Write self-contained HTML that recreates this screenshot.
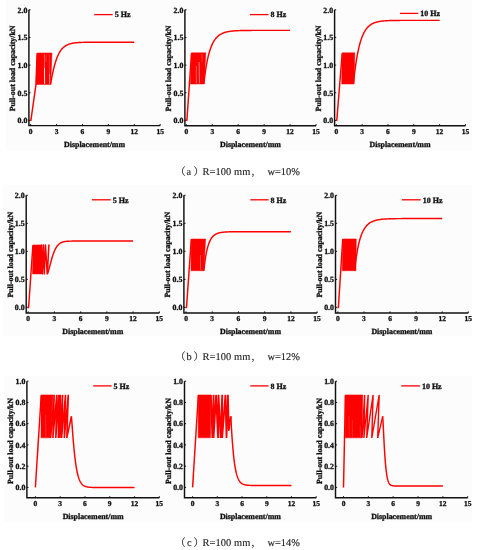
<!DOCTYPE html>
<html><head><meta charset="utf-8"><title>Pull-out load capacity vs displacement</title>
<style>
html,body{margin:0;padding:0;background:#fff;}
body{width:478px;height:550px;overflow:hidden;}
svg{display:block;filter:blur(0.3px);}
text{text-rendering:geometricPrecision;}
.t{font-family:'Liberation Serif','Times New Roman',serif;font-weight:bold;font-size:7.5px;fill:#111;stroke:#111;stroke-width:0.3px;}
.t.yt{font-size:7.9px;}
.l{font-family:'Liberation Serif','Times New Roman',serif;font-weight:bold;font-size:7.9px;fill:#111;stroke:#111;stroke-width:0.32px;}
.g{font-family:'Liberation Serif','Times New Roman',serif;font-weight:bold;font-size:8px;fill:#111;stroke:#111;stroke-width:0.32px;}
.c{font-family:'Liberation Serif','Noto Serif CJK SC',serif;font-size:10.4px;fill:#1a1a1a;stroke:#1a1a1a;stroke-width:0.12px;}
</style></head>
<body>
<svg width="478" height="550" viewBox="0 0 478 550">
<rect width="478" height="550" fill="#fff"/>
<rect x="6" y="0" width="466" height="150" fill="#fcfcfc"/>
<rect x="3" y="185" width="469" height="150.7" fill="#fcfcfc"/>
<rect x="3.8" y="376" width="468.2" height="146" fill="#fcfcfc"/>
<path d="M28.9,9.8 V125.6 H160.15" fill="none" stroke="#111" stroke-width="1.45"/>
<line x1="28.9" y1="120.4" x2="30.5" y2="120.4" stroke="#111" stroke-width="1"/>
<text x="27.4" y="123.15" class="t yt" text-anchor="end">0.0</text>
<line x1="28.9" y1="92.75" x2="30.5" y2="92.75" stroke="#111" stroke-width="1"/>
<text x="27.4" y="95.5" class="t yt" text-anchor="end">0.5</text>
<line x1="28.9" y1="65.1" x2="30.5" y2="65.1" stroke="#111" stroke-width="1"/>
<text x="27.4" y="67.85" class="t yt" text-anchor="end">1.0</text>
<line x1="28.9" y1="37.45" x2="30.5" y2="37.45" stroke="#111" stroke-width="1"/>
<text x="27.4" y="40.2" class="t yt" text-anchor="end">1.5</text>
<line x1="28.9" y1="9.8" x2="30.5" y2="9.8" stroke="#111" stroke-width="1"/>
<text x="27.4" y="12.55" class="t yt" text-anchor="end">2.0</text>
<line x1="30.7" y1="125.6" x2="30.7" y2="124" stroke="#111" stroke-width="1"/>
<text x="30.7" y="133.8" class="t" text-anchor="middle">0</text>
<line x1="56.59" y1="125.6" x2="56.59" y2="124" stroke="#111" stroke-width="1"/>
<text x="56.59" y="133.8" class="t" text-anchor="middle">3</text>
<line x1="82.48" y1="125.6" x2="82.48" y2="124" stroke="#111" stroke-width="1"/>
<text x="82.48" y="133.8" class="t" text-anchor="middle">6</text>
<line x1="108.37" y1="125.6" x2="108.37" y2="124" stroke="#111" stroke-width="1"/>
<text x="108.37" y="133.8" class="t" text-anchor="middle">9</text>
<line x1="134.26" y1="125.6" x2="134.26" y2="124" stroke="#111" stroke-width="1"/>
<text x="134.26" y="133.8" class="t" text-anchor="middle">12</text>
<line x1="160.15" y1="125.6" x2="160.15" y2="124" stroke="#111" stroke-width="1"/>
<text x="160.15" y="133.8" class="t" text-anchor="middle">15</text>
<text x="94.53" y="146.6" class="l" text-anchor="middle">Displacement/mm</text>
<text transform="translate(15.2,68.4) rotate(-90)" class="l" text-anchor="middle">Pull-out load capacity/kN</text>
<line x1="94.2" y1="14.6" x2="112.7" y2="14.6" stroke="#ff0000" stroke-width="1.3"/>
<text x="114.7" y="17.4" class="g">5 Hz</text>
<polyline points="30,120.3 30.9,120.3 36,84.4 37.1,53.4" fill="none" stroke="#ff0000" stroke-width="1.45" stroke-linejoin="round" />
<polygon points="36,84.4 37.2,53 52,53 50.7,84.4" fill="#ff0000" stroke="#ff0000" stroke-width="0.5" stroke-linejoin="round"/>
<line x1="44.4" y1="54" x2="44.5" y2="68" stroke="#fff" stroke-opacity="0.45" stroke-width="0.8"/>
<line x1="44.5" y1="68" x2="44.6" y2="83.9" stroke="#fff" stroke-opacity="0.9" stroke-width="1.0"/>
<line x1="46.1" y1="54" x2="46.1" y2="62" stroke="#fff" stroke-opacity="0.4" stroke-width="0.5"/>
<line x1="49.2" y1="54" x2="49.5" y2="74" stroke="#fff" stroke-opacity="0.35" stroke-width="0.6"/>
<line x1="49.5" y1="74" x2="49.7" y2="83.9" stroke="#fff" stroke-opacity="0.8" stroke-width="0.7"/>
<polyline points="50.5,84.4 50.85,82.59 51.2,80.69 51.55,78.81 51.9,76.98 52.25,75.21 52.6,73.51 52.95,71.88 53.3,70.32 53.65,68.82 54,67.4 54.35,66.04 54.7,64.75 55.05,63.52 55.4,62.35 55.75,61.24 56.1,60.19 56.45,59.19 56.8,58.24 57.15,57.35 57.5,56.49 57.85,55.69 58.2,54.93 58.55,54.2 58.9,53.52 59.25,52.88 59.6,52.26 59.95,51.69 60.3,51.14 60.65,50.63 61,50.14 61.35,49.68 61.7,49.25 62.05,48.84 62.4,48.45 62.75,48.08 63.1,47.74 63.45,47.42 63.8,47.11 64.15,46.82 64.5,46.55 64.85,46.29 65.2,46.05 65.55,45.82 65.9,45.61 66.25,45.4 66.6,45.21 66.95,45.03 67.3,44.86 67.65,44.71 68,44.56 68.35,44.41 68.7,44.28 69.05,44.16 69.4,44.04 69.75,43.93 70.1,43.82 70.45,43.73 70.8,43.63 71.15,43.55 71.5,43.47 71.85,43.39 72.2,43.32 72.55,43.25 72.9,43.18 73.25,43.12 73.6,43.07 73.95,43.02 74.3,42.97 74.65,42.92 75,42.87 75.35,42.83 75.7,42.79 76.05,42.76 76.4,42.72 76.75,42.69 77.1,42.66 77.45,42.63 77.8,42.61 78.15,42.58 78.5,42.56 78.85,42.54 79.2,42.51 79.55,42.5 79.9,42.48 80.25,42.46 80.6,42.44 80.95,42.43 81.3,42.41 81.65,42.4 82,42.39 82.35,42.38 82.7,42.37 83.05,42.36 83.4,42.35 83.75,42.34 84.1,42.33 84.45,42.32 84.8,42.31 85.15,42.31 85.5,42.3 85.85,42.29 86.2,42.29 86.55,42.28 86.9,42.28 87.25,42.27 87.6,42.27 87.95,42.26 88.3,42.26 88.65,42.25 89,42.25 89.35,42.25 89.7,42.25 90.05,42.24 90.4,42.24 90.75,42.24 91.1,42.23 91.45,42.23 91.8,42.23 92.15,42.23 92.5,42.23 92.85,42.23 93.2,42.22 93.55,42.22 93.9,42.22 94.25,42.22 94.6,42.22 94.95,42.22 95.3,42.22 95.65,42.21 96,42.21 96.35,42.21 96.7,42.21 97.05,42.21 97.4,42.21 97.75,42.21 98.1,42.21 98.45,42.21 98.8,42.21 99.15,42.21 99.5,42.21 99.85,42.21 100.2,42.21 100.55,42.21 100.9,42.21 101.25,42.21 101.6,42.2 101.95,42.2 102.3,42.2 102.65,42.2 103,42.2 103.35,42.2 103.7,42.2 104.05,42.2 104.4,42.2 104.75,42.2 105.1,42.2 105.45,42.2 105.8,42.2 106.15,42.2 106.5,42.2 106.85,42.2 107.2,42.2 107.55,42.2 107.9,42.2 108.25,42.2 108.6,42.2 108.95,42.2 109.3,42.2 109.65,42.2 110,42.2 110.35,42.2 110.7,42.2 111.05,42.2 111.4,42.2 111.75,42.2 112.1,42.2 112.45,42.2 112.8,42.2 113.15,42.2 113.5,42.2 113.85,42.2 114.2,42.2 114.55,42.2 114.9,42.2 115.25,42.2 115.6,42.2 115.95,42.2 116.3,42.2 116.65,42.2 117,42.2 117.35,42.2 117.7,42.2 118.05,42.2 118.4,42.2 118.75,42.2 119.1,42.2 119.45,42.2 119.8,42.2 120.15,42.2 120.5,42.2 120.85,42.2 121.2,42.2 121.55,42.2 121.9,42.2 122.25,42.2 122.6,42.2 122.95,42.2 123.3,42.2 123.65,42.2 124,42.2 124.35,42.2 124.7,42.2 125.05,42.2 125.4,42.2 125.75,42.2 126.1,42.2 126.45,42.2 126.8,42.2 127.15,42.2 127.5,42.2 127.85,42.2 128.2,42.2 128.55,42.2 128.9,42.2 129.25,42.2 129.6,42.2 129.95,42.2 130.3,42.2 130.65,42.2 131,42.2 131.35,42.2 131.7,42.2 132.05,42.2 132.4,42.2 132.75,42.2 133.1,42.2 133.45,42.2 133.8,42.2 134.15,42.2 134.26,42.2" fill="none" stroke="#ff0000" stroke-width="1.45" stroke-linejoin="round" />
<path d="M184.9,9.8 V125.7 H316.05" fill="none" stroke="#111" stroke-width="1.45"/>
<line x1="184.9" y1="120.4" x2="186.5" y2="120.4" stroke="#111" stroke-width="1"/>
<text x="183.4" y="123.15" class="t yt" text-anchor="end">0.0</text>
<line x1="184.9" y1="92.75" x2="186.5" y2="92.75" stroke="#111" stroke-width="1"/>
<text x="183.4" y="95.5" class="t yt" text-anchor="end">0.5</text>
<line x1="184.9" y1="65.1" x2="186.5" y2="65.1" stroke="#111" stroke-width="1"/>
<text x="183.4" y="67.85" class="t yt" text-anchor="end">1.0</text>
<line x1="184.9" y1="37.45" x2="186.5" y2="37.45" stroke="#111" stroke-width="1"/>
<text x="183.4" y="40.2" class="t yt" text-anchor="end">1.5</text>
<line x1="184.9" y1="9.8" x2="186.5" y2="9.8" stroke="#111" stroke-width="1"/>
<text x="183.4" y="12.55" class="t yt" text-anchor="end">2.0</text>
<line x1="186.3" y1="125.7" x2="186.3" y2="124.1" stroke="#111" stroke-width="1"/>
<text x="186.3" y="133.9" class="t" text-anchor="middle">0</text>
<line x1="212.25" y1="125.7" x2="212.25" y2="124.1" stroke="#111" stroke-width="1"/>
<text x="212.25" y="133.9" class="t" text-anchor="middle">3</text>
<line x1="238.2" y1="125.7" x2="238.2" y2="124.1" stroke="#111" stroke-width="1"/>
<text x="238.2" y="133.9" class="t" text-anchor="middle">6</text>
<line x1="264.15" y1="125.7" x2="264.15" y2="124.1" stroke="#111" stroke-width="1"/>
<text x="264.15" y="133.9" class="t" text-anchor="middle">9</text>
<line x1="290.1" y1="125.7" x2="290.1" y2="124.1" stroke="#111" stroke-width="1"/>
<text x="290.1" y="133.9" class="t" text-anchor="middle">12</text>
<line x1="316.05" y1="125.7" x2="316.05" y2="124.1" stroke="#111" stroke-width="1"/>
<text x="316.05" y="133.9" class="t" text-anchor="middle">15</text>
<text x="250.48" y="146.7" class="l" text-anchor="middle">Displacement/mm</text>
<text transform="translate(171.2,68.45) rotate(-90)" class="l" text-anchor="middle">Pull-out load capacity/kN</text>
<line x1="249.9" y1="14.6" x2="268.5" y2="14.6" stroke="#ff0000" stroke-width="1.3"/>
<text x="270.5" y="17.4" class="g">8 Hz</text>
<polyline points="185.7,120.3 186.9,120.3 191.5,53.2" fill="none" stroke="#ff0000" stroke-width="1.45" stroke-linejoin="round" />
<polygon points="190.4,84 191.5,52.8 205.8,52.8 204.2,84" fill="#ff0000" stroke="#ff0000" stroke-width="0.5" stroke-linejoin="round"/>
<line x1="196.3" y1="66" x2="196.45" y2="83.4" stroke="#fff" stroke-opacity="0.6" stroke-width="0.6"/>
<line x1="199.1" y1="62" x2="199.4" y2="83.4" stroke="#fff" stroke-opacity="0.7" stroke-width="0.7"/>
<line x1="202" y1="53.8" x2="202.1" y2="62" stroke="#fff" stroke-opacity="0.5" stroke-width="0.5"/>
<polyline points="203.9,83.8 204.25,80.38 204.6,77.38 204.95,74.64 205.3,72.1 205.65,69.73 206,67.52 206.35,65.46 206.7,63.52 207.05,61.69 207.4,59.98 207.75,58.37 208.1,56.85 208.45,55.42 208.8,54.08 209.15,52.81 209.5,51.61 209.85,50.48 210.2,49.41 210.55,48.4 210.9,47.45 211.25,46.55 211.6,45.7 211.95,44.9 212.3,44.13 212.65,43.42 213,42.73 213.35,42.09 213.7,41.48 214.05,40.91 214.4,40.36 214.75,39.84 215.1,39.35 215.45,38.89 215.8,38.45 216.15,38.04 216.5,37.64 216.85,37.27 217.2,36.92 217.55,36.58 217.9,36.26 218.25,35.96 218.6,35.68 218.95,35.41 219.3,35.15 219.65,34.91 220,34.68 220.35,34.46 220.7,34.25 221.05,34.05 221.4,33.87 221.75,33.69 222.1,33.52 222.45,33.36 222.8,33.21 223.15,33.07 223.5,32.93 223.85,32.8 224.2,32.68 224.55,32.56 224.9,32.45 225.25,32.35 225.6,32.25 225.95,32.15 226.3,32.06 226.65,31.98 227,31.9 227.35,31.82 227.7,31.75 228.05,31.68 228.4,31.61 228.75,31.55 229.1,31.49 229.45,31.43 229.8,31.38 230.15,31.33 230.5,31.28 230.85,31.23 231.2,31.19 231.55,31.15 231.9,31.11 232.25,31.07 232.6,31.04 232.95,31 233.3,30.97 233.65,30.94 234,30.91 234.35,30.88 234.7,30.86 235.05,30.83 235.4,30.81 235.75,30.79 236.1,30.77 236.45,30.75 236.8,30.73 237.15,30.71 237.5,30.69 237.85,30.67 238.2,30.66 238.55,30.64 238.9,30.63 239.25,30.61 239.6,30.6 239.95,30.59 240.3,30.58 240.65,30.57 241,30.56 241.35,30.55 241.7,30.54 242.05,30.53 242.4,30.52 242.75,30.51 243.1,30.5 243.45,30.5 243.8,30.49 244.15,30.48 244.5,30.48 244.85,30.47 245.2,30.46 245.55,30.46 245.9,30.45 246.25,30.45 246.6,30.44 246.95,30.44 247.3,30.43 247.65,30.43 248,30.43 248.35,30.42 248.7,30.42 249.05,30.42 249.4,30.41 249.75,30.41 250.1,30.41 250.45,30.4 250.8,30.4 251.15,30.4 251.5,30.4 251.85,30.39 252.2,30.39 252.55,30.39 252.9,30.39 253.25,30.39 253.6,30.38 253.95,30.38 254.3,30.38 254.65,30.38 255,30.38 255.35,30.38 255.7,30.38 256.05,30.37 256.4,30.37 256.75,30.37 257.1,30.37 257.45,30.37 257.8,30.37 258.15,30.37 258.5,30.37 258.85,30.37 259.2,30.37 259.55,30.37 259.9,30.36 260.25,30.36 260.6,30.36 260.95,30.36 261.3,30.36 261.65,30.36 262,30.36 262.35,30.36 262.7,30.36 263.05,30.36 263.4,30.36 263.75,30.36 264.1,30.36 264.45,30.36 264.8,30.36 265.15,30.36 265.5,30.36 265.85,30.36 266.2,30.36 266.55,30.36 266.9,30.36 267.25,30.36 267.6,30.35 267.95,30.35 268.3,30.35 268.65,30.35 269,30.35 269.35,30.35 269.7,30.35 270.05,30.35 270.4,30.35 270.75,30.35 271.1,30.35 271.45,30.35 271.8,30.35 272.15,30.35 272.5,30.35 272.85,30.35 273.2,30.35 273.55,30.35 273.9,30.35 274.25,30.35 274.6,30.35 274.95,30.35 275.3,30.35 275.65,30.35 276,30.35 276.35,30.35 276.7,30.35 277.05,30.35 277.4,30.35 277.75,30.35 278.1,30.35 278.45,30.35 278.8,30.35 279.15,30.35 279.5,30.35 279.85,30.35 280.2,30.35 280.55,30.35 280.9,30.35 281.25,30.35 281.6,30.35 281.95,30.35 282.3,30.35 282.65,30.35 283,30.35 283.35,30.35 283.7,30.35 284.05,30.35 284.4,30.35 284.75,30.35 285.1,30.35 285.45,30.35 285.8,30.35 286.15,30.35 286.5,30.35 286.85,30.35 287.2,30.35 287.55,30.35 287.9,30.35 288.25,30.35 288.6,30.35 288.95,30.35 289.3,30.35 289.65,30.35 290,30.35 290.1,30.35" fill="none" stroke="#ff0000" stroke-width="1.45" stroke-linejoin="round" />
<path d="M334.6,9.8 V125.7 H465.45" fill="none" stroke="#111" stroke-width="1.45"/>
<line x1="334.6" y1="120.4" x2="336.2" y2="120.4" stroke="#111" stroke-width="1"/>
<text x="333.1" y="123.15" class="t yt" text-anchor="end">0.0</text>
<line x1="334.6" y1="92.75" x2="336.2" y2="92.75" stroke="#111" stroke-width="1"/>
<text x="333.1" y="95.5" class="t yt" text-anchor="end">0.5</text>
<line x1="334.6" y1="65.1" x2="336.2" y2="65.1" stroke="#111" stroke-width="1"/>
<text x="333.1" y="67.85" class="t yt" text-anchor="end">1.0</text>
<line x1="334.6" y1="37.45" x2="336.2" y2="37.45" stroke="#111" stroke-width="1"/>
<text x="333.1" y="40.2" class="t yt" text-anchor="end">1.5</text>
<line x1="334.6" y1="9.8" x2="336.2" y2="9.8" stroke="#111" stroke-width="1"/>
<text x="333.1" y="12.55" class="t yt" text-anchor="end">2.0</text>
<line x1="336.3" y1="125.7" x2="336.3" y2="124.1" stroke="#111" stroke-width="1"/>
<text x="336.3" y="133.9" class="t" text-anchor="middle">0</text>
<line x1="362.13" y1="125.7" x2="362.13" y2="124.1" stroke="#111" stroke-width="1"/>
<text x="362.13" y="133.9" class="t" text-anchor="middle">3</text>
<line x1="387.96" y1="125.7" x2="387.96" y2="124.1" stroke="#111" stroke-width="1"/>
<text x="387.96" y="133.9" class="t" text-anchor="middle">6</text>
<line x1="413.79" y1="125.7" x2="413.79" y2="124.1" stroke="#111" stroke-width="1"/>
<text x="413.79" y="133.9" class="t" text-anchor="middle">9</text>
<line x1="439.62" y1="125.7" x2="439.62" y2="124.1" stroke="#111" stroke-width="1"/>
<text x="439.62" y="133.9" class="t" text-anchor="middle">12</text>
<line x1="465.45" y1="125.7" x2="465.45" y2="124.1" stroke="#111" stroke-width="1"/>
<text x="465.45" y="133.9" class="t" text-anchor="middle">15</text>
<text x="400.02" y="146.7" class="l" text-anchor="middle">Displacement/mm</text>
<text transform="translate(320.9,68.45) rotate(-90)" class="l" text-anchor="middle">Pull-out load capacity/kN</text>
<line x1="400" y1="13.4" x2="418.2" y2="13.4" stroke="#ff0000" stroke-width="1.3"/>
<text x="420.2" y="16.2" class="g">10 Hz</text>
<polyline points="335.7,120.3 336.8,120.3 342.2,53.2" fill="none" stroke="#ff0000" stroke-width="1.45" stroke-linejoin="round" />
<polygon points="341.7,84 342.2,52.8 354.8,52.8 354.1,84" fill="#ff0000" stroke="#ff0000" stroke-width="0.5" stroke-linejoin="round"/>
<polyline points="353.4,84 353.75,80.64 354.1,77.45 354.45,74.44 354.8,71.58 355.15,68.88 355.5,66.31 355.85,63.88 356.2,61.59 356.55,59.41 356.9,57.34 357.25,55.39 357.6,53.54 357.95,51.79 358.3,50.13 358.65,48.55 359,47.06 359.35,45.65 359.7,44.32 360.05,43.05 360.4,41.85 360.75,40.72 361.1,39.64 361.45,38.62 361.8,37.66 362.15,36.74 362.5,35.88 362.85,35.06 363.2,34.28 363.55,33.54 363.9,32.85 364.25,32.19 364.6,31.56 364.95,30.97 365.3,30.41 365.65,29.88 366,29.37 366.35,28.9 366.7,28.45 367.05,28.02 367.4,27.61 367.75,27.23 368.1,26.87 368.45,26.52 368.8,26.2 369.15,25.89 369.5,25.6 369.85,25.32 370.2,25.06 370.55,24.81 370.9,24.57 371.25,24.35 371.6,24.14 371.95,23.94 372.3,23.75 372.65,23.57 373,23.4 373.35,23.24 373.7,23.08 374.05,22.94 374.4,22.8 374.75,22.67 375.1,22.55 375.45,22.44 375.8,22.32 376.15,22.22 376.5,22.12 376.85,22.03 377.2,21.94 377.55,21.86 377.9,21.78 378.25,21.7 378.6,21.63 378.95,21.56 379.3,21.5 379.65,21.44 380,21.38 380.35,21.33 380.7,21.27 381.05,21.23 381.4,21.18 381.75,21.14 382.1,21.09 382.45,21.05 382.8,21.02 383.15,20.98 383.5,20.95 383.85,20.92 384.2,20.89 384.55,20.86 384.9,20.83 385.25,20.81 385.6,20.78 385.95,20.76 386.3,20.74 386.65,20.72 387,20.7 387.35,20.68 387.7,20.66 388.05,20.65 388.4,20.63 388.75,20.62 389.1,20.6 389.45,20.59 389.8,20.58 390.15,20.56 390.5,20.55 390.85,20.54 391.2,20.53 391.55,20.52 391.9,20.51 392.25,20.5 392.6,20.5 392.95,20.49 393.3,20.48 393.65,20.47 394,20.47 394.35,20.46 394.7,20.46 395.05,20.45 395.4,20.44 395.75,20.44 396.1,20.43 396.45,20.43 396.8,20.43 397.15,20.42 397.5,20.42 397.85,20.41 398.2,20.41 398.55,20.41 398.9,20.4 399.25,20.4 399.6,20.4 399.95,20.4 400.3,20.39 400.65,20.39 401,20.39 401.35,20.39 401.7,20.39 402.05,20.38 402.4,20.38 402.75,20.38 403.1,20.38 403.45,20.38 403.8,20.38 404.15,20.37 404.5,20.37 404.85,20.37 405.2,20.37 405.55,20.37 405.9,20.37 406.25,20.37 406.6,20.37 406.95,20.37 407.3,20.36 407.65,20.36 408,20.36 408.35,20.36 408.7,20.36 409.05,20.36 409.4,20.36 409.75,20.36 410.1,20.36 410.45,20.36 410.8,20.36 411.15,20.36 411.5,20.36 411.85,20.36 412.2,20.36 412.55,20.36 412.9,20.36 413.25,20.36 413.6,20.36 413.95,20.36 414.3,20.36 414.65,20.35 415,20.35 415.35,20.35 415.7,20.35 416.05,20.35 416.4,20.35 416.75,20.35 417.1,20.35 417.45,20.35 417.8,20.35 418.15,20.35 418.5,20.35 418.85,20.35 419.2,20.35 419.55,20.35 419.9,20.35 420.25,20.35 420.6,20.35 420.95,20.35 421.3,20.35 421.65,20.35 422,20.35 422.35,20.35 422.7,20.35 423.05,20.35 423.4,20.35 423.75,20.35 424.1,20.35 424.45,20.35 424.8,20.35 425.15,20.35 425.5,20.35 425.85,20.35 426.2,20.35 426.55,20.35 426.9,20.35 427.25,20.35 427.6,20.35 427.95,20.35 428.3,20.35 428.65,20.35 429,20.35 429.35,20.35 429.7,20.35 430.05,20.35 430.4,20.35 430.75,20.35 431.1,20.35 431.45,20.35 431.8,20.35 432.15,20.35 432.5,20.35 432.85,20.35 433.2,20.35 433.55,20.35 433.9,20.35 434.25,20.35 434.6,20.35 434.95,20.35 435.3,20.35 435.65,20.35 436,20.35 436.35,20.35 436.7,20.35 437.05,20.35 437.4,20.35 437.75,20.35 438.1,20.35 438.45,20.35 438.8,20.35 439.15,20.35 439.5,20.35 439.62,20.35" fill="none" stroke="#ff0000" stroke-width="1.45" stroke-linejoin="round" />
<path d="M26.2,195.3 V313 H159.3" fill="none" stroke="#111" stroke-width="1.45"/>
<line x1="26.2" y1="307.4" x2="27.8" y2="307.4" stroke="#111" stroke-width="1"/>
<text x="24.7" y="310.15" class="t yt" text-anchor="end">0.0</text>
<line x1="26.2" y1="279.38" x2="27.8" y2="279.38" stroke="#111" stroke-width="1"/>
<text x="24.7" y="282.12" class="t yt" text-anchor="end">0.5</text>
<line x1="26.2" y1="251.35" x2="27.8" y2="251.35" stroke="#111" stroke-width="1"/>
<text x="24.7" y="254.1" class="t yt" text-anchor="end">1.0</text>
<line x1="26.2" y1="223.32" x2="27.8" y2="223.32" stroke="#111" stroke-width="1"/>
<text x="24.7" y="226.07" class="t yt" text-anchor="end">1.5</text>
<line x1="26.2" y1="195.3" x2="27.8" y2="195.3" stroke="#111" stroke-width="1"/>
<text x="24.7" y="198.05" class="t yt" text-anchor="end">2.0</text>
<line x1="28.2" y1="313" x2="28.2" y2="311.4" stroke="#111" stroke-width="1"/>
<text x="28.2" y="321.2" class="t" text-anchor="middle">0</text>
<line x1="54.42" y1="313" x2="54.42" y2="311.4" stroke="#111" stroke-width="1"/>
<text x="54.42" y="321.2" class="t" text-anchor="middle">3</text>
<line x1="80.64" y1="313" x2="80.64" y2="311.4" stroke="#111" stroke-width="1"/>
<text x="80.64" y="321.2" class="t" text-anchor="middle">6</text>
<line x1="106.86" y1="313" x2="106.86" y2="311.4" stroke="#111" stroke-width="1"/>
<text x="106.86" y="321.2" class="t" text-anchor="middle">9</text>
<line x1="133.08" y1="313" x2="133.08" y2="311.4" stroke="#111" stroke-width="1"/>
<text x="133.08" y="321.2" class="t" text-anchor="middle">12</text>
<line x1="159.3" y1="313" x2="159.3" y2="311.4" stroke="#111" stroke-width="1"/>
<text x="159.3" y="321.2" class="t" text-anchor="middle">15</text>
<text x="92.75" y="333.7" class="l" text-anchor="middle">Displacement/mm</text>
<text transform="translate(12.7,254.65) rotate(-90)" class="l" text-anchor="middle">Pull-out load capacity/kN</text>
<line x1="91.9" y1="199.8" x2="110.7" y2="199.8" stroke="#ff0000" stroke-width="1.3"/>
<text x="112.7" y="202.6" class="g">5 Hz</text>
<polyline points="27.5,307.4 28.6,307.4 32.9,245.3" fill="none" stroke="#ff0000" stroke-width="1.45" stroke-linejoin="round" />
<polygon points="32.5,273.9 32.9,244.9 41.6,244.9 41.3,273.9" fill="#ff0000" stroke="#ff0000" stroke-width="0.5" stroke-linejoin="round"/>
<polyline points="41.3,273.9 41.6,244.9 42.4,273.9 43.5,244.9 44.3,273.9 45.5,244.9 47.2,273.9 48.9,244.9 47.4,273.9" fill="none" stroke="#ff0000" stroke-width="1.45" stroke-linejoin="round" />
<polyline points="47.3,273.9 47.65,273.33 48,272.42 48.35,271.33 48.7,270.13 49.05,268.86 49.4,267.55 49.75,266.21 50.1,264.87 50.45,263.54 50.8,262.22 51.15,260.94 51.5,259.69 51.85,258.47 52.2,257.31 52.55,256.19 52.9,255.12 53.25,254.1 53.6,253.13 53.95,252.22 54.3,251.36 54.65,250.55 55,249.79 55.35,249.07 55.7,248.41 56.05,247.79 56.4,247.21 56.75,246.68 57.1,246.18 57.45,245.72 57.8,245.3 58.15,244.91 58.5,244.55 58.85,244.23 59.2,243.92 59.55,243.65 59.9,243.4 60.25,243.17 60.6,242.96 60.95,242.77 61.3,242.59 61.65,242.44 62,242.29 62.35,242.16 62.7,242.05 63.05,241.94 63.4,241.85 63.75,241.76 64.1,241.68 64.45,241.61 64.8,241.55 65.15,241.5 65.5,241.45 65.85,241.4 66.2,241.36 66.55,241.33 66.9,241.29 67.25,241.27 67.6,241.24 67.95,241.22 68.3,241.2 68.65,241.18 69,241.17 69.35,241.15 69.7,241.14 70.05,241.13 70.4,241.12 70.75,241.11 71.1,241.1 71.45,241.1 71.8,241.09 72.15,241.09 72.5,241.08 72.85,241.08 73.2,241.07 73.55,241.07 73.9,241.07 74.25,241.07 74.6,241.06 74.95,241.06 75.3,241.06 75.65,241.06 76,241.06 76.35,241.06 76.7,241.06 77.05,241.06 77.4,241.05 77.75,241.05 78.1,241.05 78.45,241.05 78.8,241.05 79.15,241.05 79.5,241.05 79.85,241.05 80.2,241.05 80.55,241.05 80.9,241.05 81.25,241.05 81.6,241.05 81.95,241.05 82.3,241.05 82.65,241.05 83,241.05 83.35,241.05 83.7,241.05 84.05,241.05 84.4,241.05 84.75,241.05 85.1,241.05 85.45,241.05 85.8,241.05 86.15,241.05 86.5,241.05 86.85,241.05 87.2,241.05 87.55,241.05 87.9,241.05 88.25,241.05 88.6,241.05 88.95,241.05 89.3,241.05 89.65,241.05 90,241.05 90.35,241.05 90.7,241.05 91.05,241.05 91.4,241.05 91.75,241.05 92.1,241.05 92.45,241.05 92.8,241.05 93.15,241.05 93.5,241.05 93.85,241.05 94.2,241.05 94.55,241.05 94.9,241.05 95.25,241.05 95.6,241.05 95.95,241.05 96.3,241.05 96.65,241.05 97,241.05 97.35,241.05 97.7,241.05 98.05,241.05 98.4,241.05 98.75,241.05 99.1,241.05 99.45,241.05 99.8,241.05 100.15,241.05 100.5,241.05 100.85,241.05 101.2,241.05 101.55,241.05 101.9,241.05 102.25,241.05 102.6,241.05 102.95,241.05 103.3,241.05 103.65,241.05 104,241.05 104.35,241.05 104.7,241.05 105.05,241.05 105.4,241.05 105.75,241.05 106.1,241.05 106.45,241.05 106.8,241.05 107.15,241.05 107.5,241.05 107.85,241.05 108.2,241.05 108.55,241.05 108.9,241.05 109.25,241.05 109.6,241.05 109.95,241.05 110.3,241.05 110.65,241.05 111,241.05 111.35,241.05 111.7,241.05 112.05,241.05 112.4,241.05 112.75,241.05 113.1,241.05 113.45,241.05 113.8,241.05 114.15,241.05 114.5,241.05 114.85,241.05 115.2,241.05 115.55,241.05 115.9,241.05 116.25,241.05 116.6,241.05 116.95,241.05 117.3,241.05 117.65,241.05 118,241.05 118.35,241.05 118.7,241.05 119.05,241.05 119.4,241.05 119.75,241.05 120.1,241.05 120.45,241.05 120.8,241.05 121.15,241.05 121.5,241.05 121.85,241.05 122.2,241.05 122.55,241.05 122.9,241.05 123.25,241.05 123.6,241.05 123.95,241.05 124.3,241.05 124.65,241.05 125,241.05 125.35,241.05 125.7,241.05 126.05,241.05 126.4,241.05 126.75,241.05 127.1,241.05 127.45,241.05 127.8,241.05 128.15,241.05 128.5,241.05 128.85,241.05 129.2,241.05 129.55,241.05 129.9,241.05 130.25,241.05 130.6,241.05 130.95,241.05 131.3,241.05 131.65,241.05 132,241.05 132.35,241.05 132.7,241.05 133.05,241.05 133.08,241.05" fill="none" stroke="#ff0000" stroke-width="1.45" stroke-linejoin="round" />
<path d="M183.9,195.3 V313 H317.1" fill="none" stroke="#111" stroke-width="1.45"/>
<line x1="183.9" y1="307.4" x2="185.5" y2="307.4" stroke="#111" stroke-width="1"/>
<text x="182.4" y="310.15" class="t yt" text-anchor="end">0.0</text>
<line x1="183.9" y1="279.38" x2="185.5" y2="279.38" stroke="#111" stroke-width="1"/>
<text x="182.4" y="282.12" class="t yt" text-anchor="end">0.5</text>
<line x1="183.9" y1="251.35" x2="185.5" y2="251.35" stroke="#111" stroke-width="1"/>
<text x="182.4" y="254.1" class="t yt" text-anchor="end">1.0</text>
<line x1="183.9" y1="223.32" x2="185.5" y2="223.32" stroke="#111" stroke-width="1"/>
<text x="182.4" y="226.07" class="t yt" text-anchor="end">1.5</text>
<line x1="183.9" y1="195.3" x2="185.5" y2="195.3" stroke="#111" stroke-width="1"/>
<text x="182.4" y="198.05" class="t yt" text-anchor="end">2.0</text>
<line x1="186" y1="313" x2="186" y2="311.4" stroke="#111" stroke-width="1"/>
<text x="186" y="321.2" class="t" text-anchor="middle">0</text>
<line x1="212.22" y1="313" x2="212.22" y2="311.4" stroke="#111" stroke-width="1"/>
<text x="212.22" y="321.2" class="t" text-anchor="middle">3</text>
<line x1="238.44" y1="313" x2="238.44" y2="311.4" stroke="#111" stroke-width="1"/>
<text x="238.44" y="321.2" class="t" text-anchor="middle">6</text>
<line x1="264.66" y1="313" x2="264.66" y2="311.4" stroke="#111" stroke-width="1"/>
<text x="264.66" y="321.2" class="t" text-anchor="middle">9</text>
<line x1="290.88" y1="313" x2="290.88" y2="311.4" stroke="#111" stroke-width="1"/>
<text x="290.88" y="321.2" class="t" text-anchor="middle">12</text>
<line x1="317.1" y1="313" x2="317.1" y2="311.4" stroke="#111" stroke-width="1"/>
<text x="317.1" y="321.2" class="t" text-anchor="middle">15</text>
<text x="250.5" y="333.7" class="l" text-anchor="middle">Displacement/mm</text>
<text transform="translate(170.2,254.65) rotate(-90)" class="l" text-anchor="middle">Pull-out load capacity/kN</text>
<line x1="250.3" y1="199.8" x2="268.6" y2="199.8" stroke="#ff0000" stroke-width="1.3"/>
<text x="270.6" y="202.6" class="g">8 Hz</text>
<polyline points="185.5,307.4 186.5,307.4 191.3,239.4" fill="none" stroke="#ff0000" stroke-width="1.45" stroke-linejoin="round" />
<polygon points="191,270.7 191.2,239 205.6,239 203.9,270.7" fill="#ff0000" stroke="#ff0000" stroke-width="0.5" stroke-linejoin="round"/>
<line x1="200.4" y1="255" x2="200.6" y2="270.1" stroke="#fff" stroke-opacity="0.5" stroke-width="0.6"/>
<polyline points="203.9,270.7 204.25,267.11 204.6,264.06 204.95,261.35 205.3,258.9 205.65,256.68 206,254.66 206.35,252.82 206.7,251.14 207.05,249.6 207.4,248.2 207.75,246.9 208.1,245.72 208.45,244.63 208.8,243.63 209.15,242.71 209.5,241.86 209.85,241.09 210.2,240.37 210.55,239.71 210.9,239.1 211.25,238.54 211.6,238.02 211.95,237.54 212.3,237.1 212.65,236.7 213,236.32 213.35,235.98 213.7,235.66 214.05,235.36 214.4,235.09 214.75,234.84 215.1,234.6 215.45,234.39 215.8,234.19 216.15,234 216.5,233.83 216.85,233.68 217.2,233.53 217.55,233.4 217.9,233.27 218.25,233.16 218.6,233.05 218.95,232.95 219.3,232.86 219.65,232.77 220,232.7 220.35,232.62 220.7,232.56 221.05,232.49 221.4,232.44 221.75,232.38 222.1,232.33 222.45,232.29 222.8,232.24 223.15,232.21 223.5,232.17 223.85,232.14 224.2,232.1 224.55,232.07 224.9,232.05 225.25,232.02 225.6,232 225.95,231.98 226.3,231.96 226.65,231.94 227,231.92 227.35,231.91 227.7,231.89 228.05,231.88 228.4,231.87 228.75,231.85 229.1,231.84 229.45,231.83 229.8,231.82 230.15,231.81 230.5,231.81 230.85,231.8 231.2,231.79 231.55,231.78 231.9,231.78 232.25,231.77 232.6,231.77 232.95,231.76 233.3,231.76 233.65,231.75 234,231.75 234.35,231.75 234.7,231.74 235.05,231.74 235.4,231.74 235.75,231.74 236.1,231.73 236.45,231.73 236.8,231.73 237.15,231.73 237.5,231.72 237.85,231.72 238.2,231.72 238.55,231.72 238.9,231.72 239.25,231.72 239.6,231.72 239.95,231.71 240.3,231.71 240.65,231.71 241,231.71 241.35,231.71 241.7,231.71 242.05,231.71 242.4,231.71 242.75,231.71 243.1,231.71 243.45,231.71 243.8,231.71 244.15,231.71 244.5,231.71 244.85,231.71 245.2,231.7 245.55,231.7 245.9,231.7 246.25,231.7 246.6,231.7 246.95,231.7 247.3,231.7 247.65,231.7 248,231.7 248.35,231.7 248.7,231.7 249.05,231.7 249.4,231.7 249.75,231.7 250.1,231.7 250.45,231.7 250.8,231.7 251.15,231.7 251.5,231.7 251.85,231.7 252.2,231.7 252.55,231.7 252.9,231.7 253.25,231.7 253.6,231.7 253.95,231.7 254.3,231.7 254.65,231.7 255,231.7 255.35,231.7 255.7,231.7 256.05,231.7 256.4,231.7 256.75,231.7 257.1,231.7 257.45,231.7 257.8,231.7 258.15,231.7 258.5,231.7 258.85,231.7 259.2,231.7 259.55,231.7 259.9,231.7 260.25,231.7 260.6,231.7 260.95,231.7 261.3,231.7 261.65,231.7 262,231.7 262.35,231.7 262.7,231.7 263.05,231.7 263.4,231.7 263.75,231.7 264.1,231.7 264.45,231.7 264.8,231.7 265.15,231.7 265.5,231.7 265.85,231.7 266.2,231.7 266.55,231.7 266.9,231.7 267.25,231.7 267.6,231.7 267.95,231.7 268.3,231.7 268.65,231.7 269,231.7 269.35,231.7 269.7,231.7 270.05,231.7 270.4,231.7 270.75,231.7 271.1,231.7 271.45,231.7 271.8,231.7 272.15,231.7 272.5,231.7 272.85,231.7 273.2,231.7 273.55,231.7 273.9,231.7 274.25,231.7 274.6,231.7 274.95,231.7 275.3,231.7 275.65,231.7 276,231.7 276.35,231.7 276.7,231.7 277.05,231.7 277.4,231.7 277.75,231.7 278.1,231.7 278.45,231.7 278.8,231.7 279.15,231.7 279.5,231.7 279.85,231.7 280.2,231.7 280.55,231.7 280.9,231.7 281.25,231.7 281.6,231.7 281.95,231.7 282.3,231.7 282.65,231.7 283,231.7 283.35,231.7 283.7,231.7 284.05,231.7 284.4,231.7 284.75,231.7 285.1,231.7 285.45,231.7 285.8,231.7 286.15,231.7 286.5,231.7 286.85,231.7 287.2,231.7 287.55,231.7 287.9,231.7 288.25,231.7 288.6,231.7 288.95,231.7 289.3,231.7 289.65,231.7 290,231.7 290.35,231.7 290.7,231.7 290.88,231.7" fill="none" stroke="#ff0000" stroke-width="1.45" stroke-linejoin="round" />
<path d="M335.5,195.3 V313 H468.25" fill="none" stroke="#111" stroke-width="1.45"/>
<line x1="335.5" y1="307.4" x2="337.1" y2="307.4" stroke="#111" stroke-width="1"/>
<text x="334" y="310.15" class="t yt" text-anchor="end">0.0</text>
<line x1="335.5" y1="279.38" x2="337.1" y2="279.38" stroke="#111" stroke-width="1"/>
<text x="334" y="282.12" class="t yt" text-anchor="end">0.5</text>
<line x1="335.5" y1="251.35" x2="337.1" y2="251.35" stroke="#111" stroke-width="1"/>
<text x="334" y="254.1" class="t yt" text-anchor="end">1.0</text>
<line x1="335.5" y1="223.32" x2="337.1" y2="223.32" stroke="#111" stroke-width="1"/>
<text x="334" y="226.07" class="t yt" text-anchor="end">1.5</text>
<line x1="335.5" y1="195.3" x2="337.1" y2="195.3" stroke="#111" stroke-width="1"/>
<text x="334" y="198.05" class="t yt" text-anchor="end">2.0</text>
<line x1="337.9" y1="313" x2="337.9" y2="311.4" stroke="#111" stroke-width="1"/>
<text x="337.9" y="321.2" class="t" text-anchor="middle">0</text>
<line x1="363.97" y1="313" x2="363.97" y2="311.4" stroke="#111" stroke-width="1"/>
<text x="363.97" y="321.2" class="t" text-anchor="middle">3</text>
<line x1="390.04" y1="313" x2="390.04" y2="311.4" stroke="#111" stroke-width="1"/>
<text x="390.04" y="321.2" class="t" text-anchor="middle">6</text>
<line x1="416.11" y1="313" x2="416.11" y2="311.4" stroke="#111" stroke-width="1"/>
<text x="416.11" y="321.2" class="t" text-anchor="middle">9</text>
<line x1="442.18" y1="313" x2="442.18" y2="311.4" stroke="#111" stroke-width="1"/>
<text x="442.18" y="321.2" class="t" text-anchor="middle">12</text>
<line x1="468.25" y1="313" x2="468.25" y2="311.4" stroke="#111" stroke-width="1"/>
<text x="468.25" y="321.2" class="t" text-anchor="middle">15</text>
<text x="401.88" y="333.7" class="l" text-anchor="middle">Displacement/mm</text>
<text transform="translate(321.7,254.65) rotate(-90)" class="l" text-anchor="middle">Pull-out load capacity/kN</text>
<line x1="401.9" y1="199.8" x2="420.7" y2="199.8" stroke="#ff0000" stroke-width="1.3"/>
<text x="422.7" y="202.6" class="g">10 Hz</text>
<polyline points="337.4,307.4 338.4,307.4 342.7,239.3" fill="none" stroke="#ff0000" stroke-width="1.45" stroke-linejoin="round" />
<polygon points="342.2,270.7 342.7,238.9 356.3,238.9 355.9,270.7" fill="#ff0000" stroke="#ff0000" stroke-width="0.5" stroke-linejoin="round"/>
<polyline points="354.8,270.7 355.15,266.79 355.5,263.54 355.85,260.64 356.2,257.99 356.55,255.56 356.9,253.31 357.25,251.23 357.6,249.29 357.95,247.49 358.3,245.8 358.65,244.23 359,242.76 359.35,241.38 359.7,240.09 360.05,238.87 360.4,237.73 360.75,236.67 361.1,235.66 361.45,234.71 361.8,233.83 362.15,232.99 362.5,232.2 362.85,231.46 363.2,230.76 363.55,230.1 363.9,229.47 364.25,228.89 364.6,228.33 364.95,227.81 365.3,227.32 365.65,226.85 366,226.41 366.35,226 366.7,225.6 367.05,225.23 367.4,224.88 367.75,224.55 368.1,224.24 368.45,223.94 368.8,223.66 369.15,223.39 369.5,223.14 369.85,222.9 370.2,222.68 370.55,222.47 370.9,222.26 371.25,222.07 371.6,221.89 371.95,221.72 372.3,221.56 372.65,221.4 373,221.26 373.35,221.12 373.7,220.99 374.05,220.87 374.4,220.75 374.75,220.64 375.1,220.53 375.45,220.43 375.8,220.34 376.15,220.25 376.5,220.16 376.85,220.08 377.2,220 377.55,219.93 377.9,219.86 378.25,219.8 378.6,219.73 378.95,219.67 379.3,219.62 379.65,219.57 380,219.51 380.35,219.47 380.7,219.42 381.05,219.38 381.4,219.34 381.75,219.3 382.1,219.26 382.45,219.23 382.8,219.19 383.15,219.16 383.5,219.13 383.85,219.1 384.2,219.08 384.55,219.05 384.9,219.03 385.25,219 385.6,218.98 385.95,218.96 386.3,218.94 386.65,218.92 387,218.9 387.35,218.88 387.7,218.87 388.05,218.85 388.4,218.84 388.75,218.82 389.1,218.81 389.45,218.8 389.8,218.79 390.15,218.77 390.5,218.76 390.85,218.75 391.2,218.74 391.55,218.73 391.9,218.73 392.25,218.72 392.6,218.71 392.95,218.7 393.3,218.69 393.65,218.69 394,218.68 394.35,218.67 394.7,218.67 395.05,218.66 395.4,218.66 395.75,218.65 396.1,218.65 396.45,218.64 396.8,218.64 397.15,218.63 397.5,218.63 397.85,218.63 398.2,218.62 398.55,218.62 398.9,218.62 399.25,218.61 399.6,218.61 399.95,218.61 400.3,218.6 400.65,218.6 401,218.6 401.35,218.6 401.7,218.59 402.05,218.59 402.4,218.59 402.75,218.59 403.1,218.59 403.45,218.58 403.8,218.58 404.15,218.58 404.5,218.58 404.85,218.58 405.2,218.58 405.55,218.58 405.9,218.57 406.25,218.57 406.6,218.57 406.95,218.57 407.3,218.57 407.65,218.57 408,218.57 408.35,218.57 408.7,218.57 409.05,218.57 409.4,218.57 409.75,218.56 410.1,218.56 410.45,218.56 410.8,218.56 411.15,218.56 411.5,218.56 411.85,218.56 412.2,218.56 412.55,218.56 412.9,218.56 413.25,218.56 413.6,218.56 413.95,218.56 414.3,218.56 414.65,218.56 415,218.56 415.35,218.56 415.7,218.56 416.05,218.56 416.4,218.56 416.75,218.56 417.1,218.56 417.45,218.56 417.8,218.55 418.15,218.55 418.5,218.55 418.85,218.55 419.2,218.55 419.55,218.55 419.9,218.55 420.25,218.55 420.6,218.55 420.95,218.55 421.3,218.55 421.65,218.55 422,218.55 422.35,218.55 422.7,218.55 423.05,218.55 423.4,218.55 423.75,218.55 424.1,218.55 424.45,218.55 424.8,218.55 425.15,218.55 425.5,218.55 425.85,218.55 426.2,218.55 426.55,218.55 426.9,218.55 427.25,218.55 427.6,218.55 427.95,218.55 428.3,218.55 428.65,218.55 429,218.55 429.35,218.55 429.7,218.55 430.05,218.55 430.4,218.55 430.75,218.55 431.1,218.55 431.45,218.55 431.8,218.55 432.15,218.55 432.5,218.55 432.85,218.55 433.2,218.55 433.55,218.55 433.9,218.55 434.25,218.55 434.6,218.55 434.95,218.55 435.3,218.55 435.65,218.55 436,218.55 436.35,218.55 436.7,218.55 437.05,218.55 437.4,218.55 437.75,218.55 438.1,218.55 438.45,218.55 438.8,218.55 439.15,218.55 439.5,218.55 439.85,218.55 440.2,218.55 440.55,218.55 440.9,218.55 441.25,218.55 441.6,218.55 441.95,218.55 442.18,218.55" fill="none" stroke="#ff0000" stroke-width="1.45" stroke-linejoin="round" />
<path d="M26.9,381.2 V497.8 H159.3" fill="none" stroke="#111" stroke-width="1.45"/>
<line x1="26.9" y1="487.4" x2="28.5" y2="487.4" stroke="#111" stroke-width="1"/>
<text x="25.4" y="490.15" class="t yt" text-anchor="end">0.0</text>
<line x1="26.9" y1="466.16" x2="28.5" y2="466.16" stroke="#111" stroke-width="1"/>
<text x="25.4" y="468.91" class="t yt" text-anchor="end">0.2</text>
<line x1="26.9" y1="444.92" x2="28.5" y2="444.92" stroke="#111" stroke-width="1"/>
<text x="25.4" y="447.67" class="t yt" text-anchor="end">0.4</text>
<line x1="26.9" y1="423.68" x2="28.5" y2="423.68" stroke="#111" stroke-width="1"/>
<text x="25.4" y="426.43" class="t yt" text-anchor="end">0.6</text>
<line x1="26.9" y1="402.44" x2="28.5" y2="402.44" stroke="#111" stroke-width="1"/>
<text x="25.4" y="405.19" class="t yt" text-anchor="end">0.8</text>
<line x1="26.9" y1="381.2" x2="28.5" y2="381.2" stroke="#111" stroke-width="1"/>
<text x="25.4" y="383.95" class="t yt" text-anchor="end">1.0</text>
<line x1="35.4" y1="497.8" x2="35.4" y2="496.2" stroke="#111" stroke-width="1"/>
<text x="35.4" y="506" class="t" text-anchor="middle">0</text>
<line x1="60.18" y1="497.8" x2="60.18" y2="496.2" stroke="#111" stroke-width="1"/>
<text x="60.18" y="506" class="t" text-anchor="middle">3</text>
<line x1="84.96" y1="497.8" x2="84.96" y2="496.2" stroke="#111" stroke-width="1"/>
<text x="84.96" y="506" class="t" text-anchor="middle">6</text>
<line x1="109.74" y1="497.8" x2="109.74" y2="496.2" stroke="#111" stroke-width="1"/>
<text x="109.74" y="506" class="t" text-anchor="middle">9</text>
<line x1="134.52" y1="497.8" x2="134.52" y2="496.2" stroke="#111" stroke-width="1"/>
<text x="134.52" y="506" class="t" text-anchor="middle">12</text>
<line x1="159.3" y1="497.8" x2="159.3" y2="496.2" stroke="#111" stroke-width="1"/>
<text x="159.3" y="506" class="t" text-anchor="middle">15</text>
<text x="93.1" y="519.3" class="l" text-anchor="middle">Displacement/mm</text>
<text transform="translate(13.2,441) rotate(-90)" class="l" text-anchor="middle">Pull-out load capacity/kN</text>
<line x1="93.2" y1="385.9" x2="111.6" y2="385.9" stroke="#ff0000" stroke-width="1.3"/>
<text x="113.6" y="388.7" class="g">5 Hz</text>
<polyline points="35.4,487.4 41.2,395.3" fill="none" stroke="#ff0000" stroke-width="1.45" stroke-linejoin="round" />
<polygon points="41,437.8 41,394.9 53.4,394.9 50.6,437.8" fill="#ff0000" stroke="#ff0000" stroke-width="0.5" stroke-linejoin="round"/>
<line x1="45.6" y1="415" x2="45.8" y2="437.2" stroke="#fff" stroke-opacity="0.3" stroke-width="0.5"/>
<line x1="52.8" y1="395.9" x2="52.1" y2="412" stroke="#fff" stroke-opacity="0.3" stroke-width="0.5"/>
<clipPath id="c1"><rect x="41" y="394.7" width="33.4" height="43.3"/></clipPath>
<polyline points="50.6,437.8 54.2,394.9 52.9,437.8 56.8,394.9 55.8,437.8 58.8,394.9 58.4,437.8 60.4,394.9 59.8,437.8 62.6,394.9 61.6,437.8 65.5,394.9 64.3,437.8 68.3,394.9 66.8,437.8 71.4,416.4" fill="none" stroke="#ff0000" stroke-width="1.6" stroke-linejoin="round" clip-path="url(#c1)"/>
<polyline points="71.4,416.4 71.7,419.93 72,423.99 72.3,428.11 72.6,432.15 72.9,436.06 73.2,439.8 73.5,443.36 73.8,446.71 74.1,449.87 74.4,452.83 74.7,455.6 75,458.18 75.3,460.58 75.6,462.81 75.9,464.88 76.2,466.79 76.5,468.55 76.8,470.18 77.1,471.68 77.4,473.06 77.7,474.33 78,475.49 78.3,476.56 78.6,477.54 78.9,478.44 79.2,479.26 79.5,480.01 79.8,480.7 80.1,481.33 80.4,481.9 80.7,482.42 81,482.89 81.3,483.33 81.6,483.72 81.9,484.08 82.2,484.4 82.5,484.7 82.8,484.97 83.1,485.21 83.4,485.43 83.7,485.63 84,485.81 84.3,485.98 84.6,486.13 84.9,486.26 85.2,486.38 85.5,486.49 85.8,486.59 86.1,486.68 86.4,486.77 86.7,486.84 87,486.9 87.3,486.96 87.6,487.02 87.9,487.07 88.2,487.11 88.5,487.15 88.8,487.19 89.1,487.22 89.4,487.25 89.7,487.27 90,487.3 90.3,487.32 90.6,487.34 90.9,487.35 91.2,487.37 91.5,487.38 91.8,487.39 92.1,487.41 92.4,487.42 92.7,487.42 93,487.43 93.3,487.44 93.6,487.45 93.9,487.45 94.2,487.46 94.5,487.46 94.8,487.47 95.1,487.47 95.4,487.47 95.7,487.48 96,487.48 96.3,487.48 96.6,487.48 96.9,487.48 97.2,487.49 97.5,487.49 97.8,487.49 98.1,487.49 98.4,487.49 98.7,487.49 99,487.49 99.3,487.49 99.6,487.49 99.9,487.5 100.2,487.5 100.5,487.5 100.8,487.5 101.1,487.5 101.4,487.5 101.7,487.5 102,487.5 102.3,487.5 102.6,487.5 102.9,487.5 103.2,487.5 103.5,487.5 103.8,487.5 104.1,487.5 104.4,487.5 104.7,487.5 105,487.5 105.3,487.5 105.6,487.5 105.9,487.5 106.2,487.5 106.5,487.5 106.8,487.5 107.1,487.5 107.4,487.5 107.7,487.5 108,487.5 108.3,487.5 108.6,487.5 108.9,487.5 109.2,487.5 109.5,487.5 109.8,487.5 110.1,487.5 110.4,487.5 110.7,487.5 111,487.5 111.3,487.5 111.6,487.5 111.9,487.5 112.2,487.5 112.5,487.5 112.8,487.5 113.1,487.5 113.4,487.5 113.7,487.5 114,487.5 114.3,487.5 114.6,487.5 114.9,487.5 115.2,487.5 115.5,487.5 115.8,487.5 116.1,487.5 116.4,487.5 116.7,487.5 117,487.5 117.3,487.5 117.6,487.5 117.9,487.5 118.2,487.5 118.5,487.5 118.8,487.5 119.1,487.5 119.4,487.5 119.7,487.5 120,487.5 120.3,487.5 120.6,487.5 120.9,487.5 121.2,487.5 121.5,487.5 121.8,487.5 122.1,487.5 122.4,487.5 122.7,487.5 123,487.5 123.3,487.5 123.6,487.5 123.9,487.5 124.2,487.5 124.5,487.5 124.8,487.5 125.1,487.5 125.4,487.5 125.7,487.5 126,487.5 126.3,487.5 126.6,487.5 126.9,487.5 127.2,487.5 127.5,487.5 127.8,487.5 128.1,487.5 128.4,487.5 128.7,487.5 129,487.5 129.3,487.5 129.6,487.5 129.9,487.5 130.2,487.5 130.5,487.5 130.8,487.5 131.1,487.5 131.4,487.5 131.7,487.5 132,487.5 132.3,487.5 132.6,487.5 132.9,487.5 133.2,487.5 133.5,487.5 133.8,487.5 134.1,487.5 134.4,487.5 134.52,487.5" fill="none" stroke="#ff0000" stroke-width="1.45" stroke-linejoin="round" />
<path d="M184.5,381.2 V497.8 H316.2" fill="none" stroke="#111" stroke-width="1.45"/>
<line x1="184.5" y1="487.4" x2="186.1" y2="487.4" stroke="#111" stroke-width="1"/>
<text x="183" y="490.15" class="t yt" text-anchor="end">0.0</text>
<line x1="184.5" y1="466.16" x2="186.1" y2="466.16" stroke="#111" stroke-width="1"/>
<text x="183" y="468.91" class="t yt" text-anchor="end">0.2</text>
<line x1="184.5" y1="444.92" x2="186.1" y2="444.92" stroke="#111" stroke-width="1"/>
<text x="183" y="447.67" class="t yt" text-anchor="end">0.4</text>
<line x1="184.5" y1="423.68" x2="186.1" y2="423.68" stroke="#111" stroke-width="1"/>
<text x="183" y="426.43" class="t yt" text-anchor="end">0.6</text>
<line x1="184.5" y1="402.44" x2="186.1" y2="402.44" stroke="#111" stroke-width="1"/>
<text x="183" y="405.19" class="t yt" text-anchor="end">0.8</text>
<line x1="184.5" y1="381.2" x2="186.1" y2="381.2" stroke="#111" stroke-width="1"/>
<text x="183" y="383.95" class="t yt" text-anchor="end">1.0</text>
<line x1="192.6" y1="497.8" x2="192.6" y2="496.2" stroke="#111" stroke-width="1"/>
<text x="192.6" y="506" class="t" text-anchor="middle">0</text>
<line x1="217.32" y1="497.8" x2="217.32" y2="496.2" stroke="#111" stroke-width="1"/>
<text x="217.32" y="506" class="t" text-anchor="middle">3</text>
<line x1="242.04" y1="497.8" x2="242.04" y2="496.2" stroke="#111" stroke-width="1"/>
<text x="242.04" y="506" class="t" text-anchor="middle">6</text>
<line x1="266.76" y1="497.8" x2="266.76" y2="496.2" stroke="#111" stroke-width="1"/>
<text x="266.76" y="506" class="t" text-anchor="middle">9</text>
<line x1="291.48" y1="497.8" x2="291.48" y2="496.2" stroke="#111" stroke-width="1"/>
<text x="291.48" y="506" class="t" text-anchor="middle">12</text>
<line x1="316.2" y1="497.8" x2="316.2" y2="496.2" stroke="#111" stroke-width="1"/>
<text x="316.2" y="506" class="t" text-anchor="middle">15</text>
<text x="250.35" y="519.3" class="l" text-anchor="middle">Displacement/mm</text>
<text transform="translate(170.7,441) rotate(-90)" class="l" text-anchor="middle">Pull-out load capacity/kN</text>
<line x1="250.3" y1="385.9" x2="268.6" y2="385.9" stroke="#ff0000" stroke-width="1.3"/>
<text x="270.6" y="388.7" class="g">8 Hz</text>
<polyline points="192.6,487.4 198.3,395.3" fill="none" stroke="#ff0000" stroke-width="1.45" stroke-linejoin="round" />
<polygon points="198.2,437.8 198.2,394.9 210.9,394.9 210.5,437.8" fill="#ff0000" stroke="#ff0000" stroke-width="0.5" stroke-linejoin="round"/>
<clipPath id="c2"><rect x="198.2" y="394.7" width="35.8" height="43.3"/></clipPath>
<polyline points="210.9,394.9 212.4,437.8 213.6,394.9 213.6,437.8 216.1,394.9 218,437.8 218.5,394.9 220.6,437.8 222.2,394.9 222.2,437.8 225.4,394.9 226.5,437.8 227.9,394.9 228.8,430 230.8,416.4" fill="none" stroke="#ff0000" stroke-width="1.8" stroke-linejoin="round" clip-path="url(#c2)"/>
<polyline points="230.8,416.4 231.1,421.75 231.4,427.03 231.7,431.98 232,436.6 232.3,440.86 232.6,444.79 232.9,448.41 233.2,451.72 233.5,454.76 233.8,457.54 234.1,460.08 234.4,462.4 234.7,464.51 235,466.44 235.3,468.2 235.6,469.8 235.9,471.26 236.2,472.58 236.5,473.79 236.8,474.89 237.1,475.88 237.4,476.79 237.7,477.61 238,478.35 238.3,479.03 238.6,479.64 238.9,480.2 239.2,480.7 239.5,481.16 239.8,481.57 240.1,481.95 240.4,482.29 240.7,482.6 241,482.87 241.3,483.13 241.6,483.36 241.9,483.56 242.2,483.75 242.5,483.92 242.8,484.07 243.1,484.21 243.4,484.33 243.7,484.45 244,484.55 244.3,484.64 244.6,484.73 244.9,484.8 245.2,484.87 245.5,484.93 245.8,484.99 246.1,485.04 246.4,485.08 246.7,485.12 247,485.16 247.3,485.19 247.6,485.22 247.9,485.25 248.2,485.28 248.5,485.3 248.8,485.32 249.1,485.34 249.4,485.35 249.7,485.37 250,485.38 250.3,485.39 250.6,485.4 250.9,485.41 251.2,485.42 251.5,485.43 251.8,485.44 252.1,485.44 252.4,485.45 252.7,485.45 253,485.46 253.3,485.46 253.6,485.47 253.9,485.47 254.2,485.47 254.5,485.48 254.8,485.48 255.1,485.48 255.4,485.48 255.7,485.48 256,485.49 256.3,485.49 256.6,485.49 256.9,485.49 257.2,485.49 257.5,485.49 257.8,485.49 258.1,485.49 258.4,485.49 258.7,485.49 259,485.49 259.3,485.5 259.6,485.5 259.9,485.5 260.2,485.5 260.5,485.5 260.8,485.5 261.1,485.5 261.4,485.5 261.7,485.5 262,485.5 262.3,485.5 262.6,485.5 262.9,485.5 263.2,485.5 263.5,485.5 263.8,485.5 264.1,485.5 264.4,485.5 264.7,485.5 265,485.5 265.3,485.5 265.6,485.5 265.9,485.5 266.2,485.5 266.5,485.5 266.8,485.5 267.1,485.5 267.4,485.5 267.7,485.5 268,485.5 268.3,485.5 268.6,485.5 268.9,485.5 269.2,485.5 269.5,485.5 269.8,485.5 270.1,485.5 270.4,485.5 270.7,485.5 271,485.5 271.3,485.5 271.6,485.5 271.9,485.5 272.2,485.5 272.5,485.5 272.8,485.5 273.1,485.5 273.4,485.5 273.7,485.5 274,485.5 274.3,485.5 274.6,485.5 274.9,485.5 275.2,485.5 275.5,485.5 275.8,485.5 276.1,485.5 276.4,485.5 276.7,485.5 277,485.5 277.3,485.5 277.6,485.5 277.9,485.5 278.2,485.5 278.5,485.5 278.8,485.5 279.1,485.5 279.4,485.5 279.7,485.5 280,485.5 280.3,485.5 280.6,485.5 280.9,485.5 281.2,485.5 281.5,485.5 281.8,485.5 282.1,485.5 282.4,485.5 282.7,485.5 283,485.5 283.3,485.5 283.6,485.5 283.9,485.5 284.2,485.5 284.5,485.5 284.8,485.5 285.1,485.5 285.4,485.5 285.7,485.5 286,485.5 286.3,485.5 286.6,485.5 286.9,485.5 287.2,485.5 287.5,485.5 287.8,485.5 288.1,485.5 288.4,485.5 288.7,485.5 289,485.5 289.3,485.5 289.6,485.5 289.9,485.5 290.2,485.5 290.5,485.5 290.8,485.5 291.1,485.5 291.4,485.5 291.48,485.5" fill="none" stroke="#ff0000" stroke-width="1.45" stroke-linejoin="round" />
<path d="M335.5,381.2 V497.8 H467.7" fill="none" stroke="#111" stroke-width="1.45"/>
<line x1="335.5" y1="487.4" x2="337.1" y2="487.4" stroke="#111" stroke-width="1"/>
<text x="334" y="490.15" class="t yt" text-anchor="end">0.0</text>
<line x1="335.5" y1="466.16" x2="337.1" y2="466.16" stroke="#111" stroke-width="1"/>
<text x="334" y="468.91" class="t yt" text-anchor="end">0.2</text>
<line x1="335.5" y1="444.92" x2="337.1" y2="444.92" stroke="#111" stroke-width="1"/>
<text x="334" y="447.67" class="t yt" text-anchor="end">0.4</text>
<line x1="335.5" y1="423.68" x2="337.1" y2="423.68" stroke="#111" stroke-width="1"/>
<text x="334" y="426.43" class="t yt" text-anchor="end">0.6</text>
<line x1="335.5" y1="402.44" x2="337.1" y2="402.44" stroke="#111" stroke-width="1"/>
<text x="334" y="405.19" class="t yt" text-anchor="end">0.8</text>
<line x1="335.5" y1="381.2" x2="337.1" y2="381.2" stroke="#111" stroke-width="1"/>
<text x="334" y="383.95" class="t yt" text-anchor="end">1.0</text>
<line x1="343.5" y1="497.8" x2="343.5" y2="496.2" stroke="#111" stroke-width="1"/>
<text x="343.5" y="506" class="t" text-anchor="middle">0</text>
<line x1="368.34" y1="497.8" x2="368.34" y2="496.2" stroke="#111" stroke-width="1"/>
<text x="368.34" y="506" class="t" text-anchor="middle">3</text>
<line x1="393.18" y1="497.8" x2="393.18" y2="496.2" stroke="#111" stroke-width="1"/>
<text x="393.18" y="506" class="t" text-anchor="middle">6</text>
<line x1="418.02" y1="497.8" x2="418.02" y2="496.2" stroke="#111" stroke-width="1"/>
<text x="418.02" y="506" class="t" text-anchor="middle">9</text>
<line x1="442.86" y1="497.8" x2="442.86" y2="496.2" stroke="#111" stroke-width="1"/>
<text x="442.86" y="506" class="t" text-anchor="middle">12</text>
<line x1="467.7" y1="497.8" x2="467.7" y2="496.2" stroke="#111" stroke-width="1"/>
<text x="467.7" y="506" class="t" text-anchor="middle">15</text>
<text x="401.6" y="519.3" class="l" text-anchor="middle">Displacement/mm</text>
<text transform="translate(321.7,441) rotate(-90)" class="l" text-anchor="middle">Pull-out load capacity/kN</text>
<line x1="401.3" y1="385.9" x2="419.9" y2="385.9" stroke="#ff0000" stroke-width="1.3"/>
<text x="421.9" y="388.7" class="g">10 Hz</text>
<polyline points="343.5,487.4 345.4,395.3" fill="none" stroke="#ff0000" stroke-width="1.45" stroke-linejoin="round" />
<polygon points="345.2,437.8 345.2,394.9 362.8,394.9 362,437.8" fill="#ff0000" stroke="#ff0000" stroke-width="0.5" stroke-linejoin="round"/>
<line x1="349" y1="416" x2="349.1" y2="437.2" stroke="#fff" stroke-opacity="0.3" stroke-width="0.5"/>
<line x1="352.3" y1="420" x2="352.4" y2="437.2" stroke="#fff" stroke-opacity="0.3" stroke-width="0.5"/>
<line x1="360.3" y1="426" x2="360.4" y2="437.2" stroke="#fff" stroke-opacity="0.35" stroke-width="0.5"/>
<clipPath id="c3"><rect x="345.2" y="394.7" width="40.5" height="43.3"/></clipPath>
<polyline points="362,437.8 364.7,394.9 363.9,437.8 368.2,394.9 366.7,437.8 373.1,394.9 371.8,437.8 379.2,394.9 377.7,437.8 382.7,416.4" fill="none" stroke="#ff0000" stroke-width="1.4" stroke-linejoin="round" clip-path="url(#c3)"/>
<polyline points="382.7,416.4 383,421.15 383.3,427.16 383.6,433.34 383.9,439.32 384.2,444.95 384.5,450.14 384.8,454.86 385.1,459.09 385.4,462.85 385.7,466.18 386,469.09 386.3,471.63 386.6,473.83 386.9,475.72 387.2,477.35 387.5,478.74 387.8,479.92 388.1,480.93 388.4,481.77 388.7,482.49 389,483.09 389.3,483.59 389.6,484.02 389.9,484.37 390.2,484.66 390.5,484.9 390.8,485.1 391.1,485.26 391.4,485.4 391.7,485.51 392,485.6 392.3,485.68 392.6,485.74 392.9,485.79 393.2,485.83 393.5,485.86 393.8,485.89 394.1,485.91 394.4,485.93 394.7,485.94 395,485.95 395.3,485.96 395.6,485.97 395.9,485.98 396.2,485.98 396.5,485.99 396.8,485.99 397.1,485.99 397.4,485.99 397.7,485.99 398,486 398.3,486 398.6,486 398.9,486 399.2,486 399.5,486 399.8,486 400.1,486 400.4,486 400.7,486 401,486 401.3,486 401.6,486 401.9,486 402.2,486 402.5,486 402.8,486 403.1,486 403.4,486 403.7,486 404,486 404.3,486 404.6,486 404.9,486 405.2,486 405.5,486 405.8,486 406.1,486 406.4,486 406.7,486 407,486 407.3,486 407.6,486 407.9,486 408.2,486 408.5,486 408.8,486 409.1,486 409.4,486 409.7,486 410,486 410.3,486 410.6,486 410.9,486 411.2,486 411.5,486 411.8,486 412.1,486 412.4,486 412.7,486 413,486 413.3,486 413.6,486 413.9,486 414.2,486 414.5,486 414.8,486 415.1,486 415.4,486 415.7,486 416,486 416.3,486 416.6,486 416.9,486 417.2,486 417.5,486 417.8,486 418.1,486 418.4,486 418.7,486 419,486 419.3,486 419.6,486 419.9,486 420.2,486 420.5,486 420.8,486 421.1,486 421.4,486 421.7,486 422,486 422.3,486 422.6,486 422.9,486 423.2,486 423.5,486 423.8,486 424.1,486 424.4,486 424.7,486 425,486 425.3,486 425.6,486 425.9,486 426.2,486 426.5,486 426.8,486 427.1,486 427.4,486 427.7,486 428,486 428.3,486 428.6,486 428.9,486 429.2,486 429.5,486 429.8,486 430.1,486 430.4,486 430.7,486 431,486 431.3,486 431.6,486 431.9,486 432.2,486 432.5,486 432.8,486 433.1,486 433.4,486 433.7,486 434,486 434.3,486 434.6,486 434.9,486 435.2,486 435.5,486 435.8,486 436.1,486 436.4,486 436.7,486 437,486 437.3,486 437.6,486 437.9,486 438.2,486 438.5,486 438.8,486 439.1,486 439.4,486 439.7,486 440,486 440.3,486 440.6,486 440.9,486 441.2,486 441.5,486 441.8,486 442.1,486 442.4,486 442.7,486 442.86,486" fill="none" stroke="#ff0000" stroke-width="1.45" stroke-linejoin="round" />
<text y="174.6" class="c"><tspan x="175.2">（</tspan><tspan x="186.6">a</tspan><tspan x="193.4">）</tspan><tspan x="202.4" letter-spacing="0.12">R=100 mm</tspan><tspan x="251.3">，</tspan><tspan x="267.4">w=10%</tspan></text>
<text y="359.9" class="c"><tspan x="175.2">（</tspan><tspan x="186.6">b</tspan><tspan x="193.4">）</tspan><tspan x="202.4" letter-spacing="0.12">R=100 mm</tspan><tspan x="251.3">，</tspan><tspan x="267.4">w=12%</tspan></text>
<text y="545.8" class="c"><tspan x="175.2">（</tspan><tspan x="187.0">c</tspan><tspan x="193.4">）</tspan><tspan x="202.4" letter-spacing="0.12">R=100 mm</tspan><tspan x="251.3">，</tspan><tspan x="267.4">w=14%</tspan></text>
</svg>
</body></html>
